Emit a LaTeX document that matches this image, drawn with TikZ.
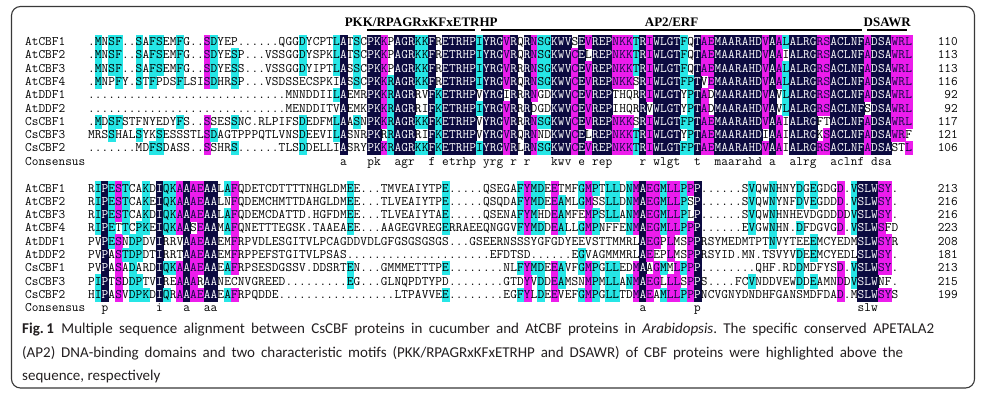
\documentclass[tikz,border=0pt]{standalone}
\usepackage{fontspec}
\setmainfont{Carlito}
\newfontfamily\seqfont{Latin Modern Mono}
\newfontfamily\motiffont{Liberation Serif}
\usetikzlibrary{positioning}
\frenchspacing

\definecolor{idnavy}{RGB}{12,10,64}
\definecolor{idpink}{RGB}{236,28,236}
\definecolor{idcyan}{RGB}{38,230,230}
\definecolor{capgray}{RGB}{35,31,32}

% one alignment column is 6.81px wide, one row 13.3px high
\newcommand{\cellw}{6.81}
\newcommand{\cellh}{13.3}
\newcommand{\seqx}{88}

\tikzset{
  res/.style={anchor=base, inner sep=0pt, font=\seqfont\fontsize{12.97}{13}\selectfont},
  seqlabel/.style={anchor=base west, inner sep=0pt, font=\seqfont\fontsize{12.97}{13}\selectfont},
  seqnum/.style={anchor=base east, inner sep=0pt, font=\seqfont\fontsize{12.97}{13}\selectfont},
  navycell/.style={fill=idnavy, draw=idnavy, line width=0.3pt},
  pinkcell/.style={fill=idpink, draw=idpink, line width=0.3pt},
  cyancell/.style={fill=idcyan, draw=idcyan, line width=0.3pt},
  navyres/.style={text=white},
  pinkres/.style={text=idnavy},
  cyanres/.style={text=black},
  plainres/.style={text=black},
  motif/.style={font=\motiffont\bfseries\fontsize{13}{13}\selectfont, inner sep=0pt},
  motifbar/.style={line width=2pt},
  caption/.style={anchor=base west, inner sep=0pt, text=capgray, font=\fontsize{15}{16}\selectfont},
}

% shaded box behind one residue: column, row centre, style
\newcommand{\alncell}[3]{\fill[#3] ({\seqx+(#1-1)*\cellw},{#2-\cellh/2}) rectangle ++(\cellw,\cellh);}
% one residue: name, column, row centre, style, letter
\newcommand{\alnchar}[5]{\node[res,#4] (#1) at ({\seqx+(#2-0.5)*\cellw},{#3+4}) {#5};}

% shading by identity: 100% navy, >=75% pink, >=50% cyan
\ExplSyntaxOn
\seq_new:N \l__aln_rows_seq
\int_new:N \l__aln_nrow_int
\int_new:N \l__aln_len_int
\int_new:N \l__aln_cnt_int
\tl_new:N \l__aln_col_tl
\tl_new:N \l__aln_chr_tl
\tl_new:N \l__aln_tag_tl
\tl_new:N \l__aln_text_tl
\int_step_inline:nn {9} { \tl_new:c { l__aln_seq_#1_tl } }
\cs_new_protected:Npn \__aln_put:nnnn #1#2#3#4
 {
  \str_if_eq:nnF {#4} {plain}
   { \use:x { \exp_not:N \alncell {#1} { \fp_eval:n { #3 + (#2 - 1) * \cellh } } { #4cell } } }
  \tl_put_right:Nx \l__aln_text_tl
   {
    \exp_not:N \alnchar { \l__aln_tag_tl r#2c#1 } {#1}
     { \fp_eval:n { #3 + (#2 - 1) * \cellh } } { #4res } { \l__aln_chr_tl }
   }
 }
\cs_new_protected:Npn \__aln_column:nn #1#2
 {
  \tl_clear:N \l__aln_col_tl
  \int_step_inline:nn { \l__aln_nrow_int }
   { \tl_put_right:Nx \l__aln_col_tl { \tl_item:cn { l__aln_seq_##1_tl } {#1} } }
  \int_step_inline:nn { \l__aln_nrow_int }
   {
    \tl_set:Nx \l__aln_chr_tl { \tl_item:Nn \l__aln_col_tl {##1} }
    \int_zero:N \l__aln_cnt_int
    \str_if_eq:VnF \l__aln_chr_tl { . }
     {
      \tl_map_inline:Nn \l__aln_col_tl
       { \str_if_eq:VnT \l__aln_chr_tl {####1} { \int_incr:N \l__aln_cnt_int } }
     }
    \int_compare:nNnTF { \l__aln_cnt_int } = { \l__aln_nrow_int }
     { \__aln_put:nnnn {#1} {##1} {#2} {navy} }
     {
      \int_compare:nNnTF { 4 * \l__aln_cnt_int } < { 3 * \l__aln_nrow_int }
       {
        \int_compare:nNnTF { 2 * \l__aln_cnt_int } < { \l__aln_nrow_int }
         { \__aln_put:nnnn {#1} {##1} {#2} {plain} }
         { \__aln_put:nnnn {#1} {##1} {#2} {cyan} }
       }
       { \__aln_put:nnnn {#1} {##1} {#2} {pink} }
     }
   }
  % consensus letter under a fully conserved column
  \int_compare:nNnT { \l__aln_cnt_int } = { \l__aln_nrow_int }
   {
    \tl_set:Nx \l__aln_chr_tl { \str_lowercase:f { \l__aln_chr_tl } }
    \__aln_put:nnnn {#1} { \int_eval:n { \l__aln_nrow_int + 1 } } {#2} {plain}
   }
 }
\NewDocumentCommand \alignblock { m m m }
 {
  \tl_set:Nn \l__aln_tag_tl {#1}
  \tl_clear:N \l__aln_text_tl
  \seq_set_from_clist:Nn \l__aln_rows_seq {#3}
  \int_set:Nn \l__aln_nrow_int { \seq_count:N \l__aln_rows_seq }
  \int_step_inline:nn { \l__aln_nrow_int }
   { \tl_set:cx { l__aln_seq_##1_tl } { \seq_item:Nn \l__aln_rows_seq {##1} } }
  \int_set:Nn \l__aln_len_int { \tl_count:c { l__aln_seq_1_tl } }
  \int_step_inline:nn { \l__aln_len_int } { \__aln_column:nn {##1} {#2} }
  % letters go on top of all shaded boxes
  \tl_use:N \l__aln_text_tl
 }
\ExplSyntaxOff

\begin{document}
\begin{tikzpicture}[x=1pt,y=-1pt]
  \useasboundingbox (0,0) rectangle (987,397);
  \draw[black!78, line width=1.1pt, rounded corners=9pt] (11.5,6.5) rectangle (974.5,388);
  %
  % motif bars above the first block
  \coordinate (pkkL) at ({\seqx+41*\cellw},30);
  \coordinate (pkkR) at ({\seqx+57*\cellw-1},30);
  \coordinate (apL) at ({\seqx+57*\cellw+5},30);
  \coordinate (apR) at (862,30);
  \coordinate (dsL) at ({\seqx+115*\cellw-4},30);
  \coordinate (dsR) at ({\seqx+120*\cellw+2},30);
  \draw[motifbar] (pkkL) -- (pkkR) node[motif, midway, above=2pt] (pkktxt) {PKK/RPAGRxKFxETRHP};
  \draw[motifbar] (apL) -- (apR) node[motif, midway, above=2pt] (aptxt) {AP2/ERF};
  \draw[motifbar] (dsL) -- (dsR) node[motif, midway, above=2pt] (dstxt) {DSAWR};
  %
  % first block
  \alignblock{b1}{41.5}{
    .MNSF..SAFSEMFG..SDYEP......QGGDYCPTLATSCPKKPAGRKKFRETRHPIYRGVRQRNSGKWVSEVREPNKKTRIWLGTFQTAEMAARAHDVAALALRGRSACLNFADSAWRL,
    .MNSF..SAFSEMFG..SDYESP...VSSGGDYSPKLATSCPKKPAGRKKFRETRHPIYRGVRQRNSGKWVCELREPNKKTRIWLGTFQTAEMAARAHDVAAIALRGRSACLNFADSAWRL,
    .MNSF..SAFSEMFG..SDYESS...VSSGGDYIPTLASSCPKKPAGRKKFRETRHPIYRGVRRRNSGKWVCEVREPNKKTRIWLGTFQTAEMAARAHDVAALALRGRSACLNFADSAWRL,
    .MNPFY.STFPDSFLSISDHRSP...VSDSSECSPKIASSCPKKRAGRKKFRETRHPIYRGVRQRNSGKWVCEVREPNKKSRIWLGTFPTVEMAARAHDVAALALRGRSACLNFADSAWRL,
    .............................MNNDDIILAEMRPKKRAGRRVFKETRHPVYRGIRRRNGDKWVCEVREPTHQRRIWLGTYPTADMAARAHDVAVLALRGRSACLNFADSAWRL,
    .............................MENDDITVAEMKPKKRAGRRIFKETRHPIYRGVRRRDGDKWVCEVREPIHQRRVWLGTYPTADMAARAHDVAVLALRGRSACLNFSDSAWRL,
    .MDSFSTFNYEDYFS..SSESSNC.RLPIFSDEDFMLAASNPKKRAGRKKFKETRHPVYRGVRRRNSGKWVCEVREPNKKSRIWLGTFPTAEMAARAHDVAAIALRGFTACLNFADSAWRL,
    MRSSHALSYKSESSSTLSDAGTPPPQTLVNSDEEVILASNRPKRRAGRRIFKETRHPVYRGVRQRNNDKWVCELREPNKKTRIWLGTYPTAEMAARAHDIAAIALRGKSACLNFADSAWRF,
    .......MDFSDASS..SSHRS......TLSDDELLIASRYPKKRAGRKKFKETRHPIYRGVRLRNSGKWVCEVREPNKKTRIWLGTFPTAEMAARAHDVAAIALRGRSACLNFADSASTL}
  %
  % second block
  \alignblock{b2}{188}{
    RIPESTCAKDIQKAAAEAALAFQDETCDTTTTNHGLDMEE...TMVEAIYTPE.....QSEGAFYMDEETMFGMPTLLDNMAEGMLLPPP......SVQWNHNYDGEGDGD.VSLWSY.,
    RIPESTCAKEIQKAAAEAALNFQDEMCHMTTDAHGLDMEE...TLVEAIYTPE.....QSQDAFYMDEEAMLGMSSLLDNMAEGMLLPSP......SVQWNYNFDVEGDDD.VSLWSY.,
    RIPESTCAKDIQKAAAEAALAFQDEMCDATTD.HGFDMEE...TLVEAIYTAE.....QSENAFYMHDEAMFEMPSLLANMAEGMLLPLP......SVQWNHNHEVDGDDDDVSLWSY.,
    RIPETTCPKEIQKAASEAAMAFQNETTTEGSK.TAAEAEE...AAGEGVREGERRAEEQNGGVFYMDDEALLGMPNFFENMAEGMLLPPP......EVGWNHN.DFDGVGD.VSLWSFD,
    PVPESNDPDVIRRVAAEAAEMFRPVDLESGITVLPCAGDDVDLGFGSGSGSGS...GSEERNSSSYGFGDYEEVSTTMMRLAEGPLMSPPRSYMEDMTPTNVYTEEEMCYEDMSLWSYR,
    PVPASTDPDTIRRTAAEAAEMFRPPEFSTGITVLPSAS.....................EFDTSD......EGVAGMMMRLAEEPLMSPPRSYID.MN.TSVYVDEEMCYEDLSLWSY.,
    PVPASADARDIQKAAAEAAEAFRPSESDGSSV.DDSRTEN...GMMMETTTPE........NLFYMDEEAVFGMPGLLEDMAAGMMLPPP........QHF.RDDMDFYSD.VSLWSY.,
    PIPTSDDPTVIREAAARAANECNVGREED.........EG...GLNQPDTYPD........GTDYVDDEAMSNMPMLLANMAEGLLLSPPS....FCVNDDVEWDDEAMNDDVSLWNF.,
    HIPASVDPKDIQRAAAEAAEAFRPQDDE.................LTPAVVEE........EGFYLDEEVEFGMPGLLTDMAEAMLLPPPNCVGNYDNDHFGANSMDFDAD.MSLWSYS}
  %
  % sequence names and residue counts
  \foreach \nm [count=\i] in {AtCBF1,AtCBF2,AtCBF3,AtCBF4,AtDDF1,AtDDF2,CsCBF1,CsCBF3,CsCBF2,Consensus}{
    \node[seqlabel] (b1lab\i) at (25,{41.5+(\i-1)*\cellh+4}) {\nm};
    \node[seqlabel] (b2lab\i) at (25,{188+(\i-1)*\cellh+4}) {\nm};
  }
  \foreach \n [count=\i] in {110,113,113,116,92,92,117,121,106}
    \node[seqnum] (b1num\i) at (958,{41.5+(\i-1)*\cellh+4}) {\n};
  \foreach \n [count=\i] in {213,216,216,223,208,181,213,215,199}
    \node[seqnum] (b2num\i) at (958,{188+(\i-1)*\cellh+4}) {\n};
  %
  % caption, first two lines spread to the widths of the original
  \node[caption] (cap1) at (22,333.5) {\makebox[912pt][s]{\textbf{Fig.\,1}\hspace{0.5em}Multiple sequence alignment between CsCBF proteins in cucumber and AtCBF proteins in \textit{Arabidopsis}. The specific conserved APETALA2}};
  \node[caption] (cap2) at (22,357.5) {\makebox[881pt][s]{(AP2) DNA-binding domains and two characteristic motifs (PKK/RPAGRxKFxETRHP and DSAWR) of CBF proteins were highlighted above the}};
  \node[caption] (cap3) at (22,380.5) {sequence, respectively};
\end{tikzpicture}
\end{document}
